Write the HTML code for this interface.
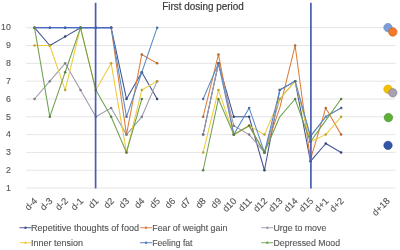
<!DOCTYPE html>
<html><head><meta charset="utf-8"><style>
html,body{margin:0;padding:0;background:#fff;width:400px;height:250px;overflow:hidden}
svg{display:block;will-change:transform;filter:blur(0.35px)}
.ax{font-family:"Liberation Sans",sans-serif;font-size:8.8px;fill:#555;stroke:#555;stroke-width:0.12px}
.xl{font-size:9.3px}
.ti{font-family:"Liberation Sans",sans-serif;font-size:10px;fill:#3a3a3a;stroke:#3a3a3a;stroke-width:0.2px}
.lg{font-family:"Liberation Sans",sans-serif;font-size:8.4px;fill:#555;stroke:#555;stroke-width:0.12px}
</style></head><body>
<svg width="400" height="250" viewBox="0 0 400 250">
<line x1="26" y1="188.08" x2="395.5" y2="188.08" stroke="#E2E2E2" stroke-width="0.9"/>
<line x1="26" y1="170.26" x2="395.5" y2="170.26" stroke="#E2E2E2" stroke-width="0.9"/>
<line x1="26" y1="152.44" x2="395.5" y2="152.44" stroke="#E2E2E2" stroke-width="0.9"/>
<line x1="26" y1="134.62" x2="395.5" y2="134.62" stroke="#E2E2E2" stroke-width="0.9"/>
<line x1="26" y1="116.80" x2="395.5" y2="116.80" stroke="#E2E2E2" stroke-width="0.9"/>
<line x1="26" y1="98.98" x2="395.5" y2="98.98" stroke="#E2E2E2" stroke-width="0.9"/>
<line x1="26" y1="81.16" x2="395.5" y2="81.16" stroke="#E2E2E2" stroke-width="0.9"/>
<line x1="26" y1="63.34" x2="395.5" y2="63.34" stroke="#E2E2E2" stroke-width="0.9"/>
<line x1="26" y1="45.52" x2="395.5" y2="45.52" stroke="#E2E2E2" stroke-width="0.9"/>
<line x1="26" y1="27.70" x2="395.5" y2="27.70" stroke="#E2E2E2" stroke-width="0.9"/>
<text x="10.9" y="190.78" text-anchor="end" class="ax">1</text>
<text x="10.9" y="172.96" text-anchor="end" class="ax">2</text>
<text x="10.9" y="155.14" text-anchor="end" class="ax">3</text>
<text x="10.9" y="137.32" text-anchor="end" class="ax">4</text>
<text x="10.9" y="119.50" text-anchor="end" class="ax">5</text>
<text x="10.9" y="101.68" text-anchor="end" class="ax">6</text>
<text x="10.9" y="83.86" text-anchor="end" class="ax">7</text>
<text x="10.9" y="66.04" text-anchor="end" class="ax">8</text>
<text x="10.9" y="48.22" text-anchor="end" class="ax">9</text>
<text x="10.9" y="30.40" text-anchor="end" class="ax">10</text>
<text transform="translate(37.90,201.6) rotate(-45)" text-anchor="end" class="ax xl">d-4</text>
<text transform="translate(53.23,201.6) rotate(-45)" text-anchor="end" class="ax xl">d-3</text>
<text transform="translate(68.56,201.6) rotate(-45)" text-anchor="end" class="ax xl">d-2</text>
<text transform="translate(83.89,201.6) rotate(-45)" text-anchor="end" class="ax xl">d-1</text>
<text transform="translate(99.22,201.6) rotate(-45)" text-anchor="end" class="ax xl">d1</text>
<text transform="translate(114.55,201.6) rotate(-45)" text-anchor="end" class="ax xl">d2</text>
<text transform="translate(129.88,201.6) rotate(-45)" text-anchor="end" class="ax xl">d3</text>
<text transform="translate(145.21,201.6) rotate(-45)" text-anchor="end" class="ax xl">d4</text>
<text transform="translate(160.54,201.6) rotate(-45)" text-anchor="end" class="ax xl">d5</text>
<text transform="translate(175.87,201.6) rotate(-45)" text-anchor="end" class="ax xl">d6</text>
<text transform="translate(191.20,201.6) rotate(-45)" text-anchor="end" class="ax xl">d7</text>
<text transform="translate(206.53,201.6) rotate(-45)" text-anchor="end" class="ax xl">d8</text>
<text transform="translate(221.86,201.6) rotate(-45)" text-anchor="end" class="ax xl">d9</text>
<text transform="translate(237.19,201.6) rotate(-45)" text-anchor="end" class="ax xl">d10</text>
<text transform="translate(252.52,201.6) rotate(-45)" text-anchor="end" class="ax xl">d11</text>
<text transform="translate(267.85,201.6) rotate(-45)" text-anchor="end" class="ax xl">d12</text>
<text transform="translate(283.18,201.6) rotate(-45)" text-anchor="end" class="ax xl">d13</text>
<text transform="translate(298.51,201.6) rotate(-45)" text-anchor="end" class="ax xl">d14</text>
<text transform="translate(313.84,201.6) rotate(-45)" text-anchor="end" class="ax xl">d15</text>
<text transform="translate(329.17,201.6) rotate(-45)" text-anchor="end" class="ax xl">d+1</text>
<text transform="translate(344.50,201.6) rotate(-45)" text-anchor="end" class="ax xl">d+2</text>
<text transform="translate(390.49,201.6) rotate(-45)" text-anchor="end" class="ax xl">d+18</text>
<polyline points="34.50,27.70 49.83,45.52 65.16,36.61 80.49,27.70 95.82,27.70 111.15,27.70 126.48,98.98 141.81,72.25 157.14,98.98" fill="none" stroke="#415291" stroke-width="1.05" stroke-linejoin="round"/>
<circle cx="34.50" cy="27.70" r="1.25" fill="#344174"/>
<circle cx="49.83" cy="45.52" r="1.25" fill="#344174"/>
<circle cx="65.16" cy="36.61" r="1.25" fill="#344174"/>
<circle cx="80.49" cy="27.70" r="1.25" fill="#344174"/>
<circle cx="95.82" cy="27.70" r="1.25" fill="#344174"/>
<circle cx="111.15" cy="27.70" r="1.25" fill="#344174"/>
<circle cx="126.48" cy="98.98" r="1.25" fill="#344174"/>
<circle cx="141.81" cy="72.25" r="1.25" fill="#344174"/>
<circle cx="157.14" cy="98.98" r="1.25" fill="#344174"/>
<polyline points="203.13,134.62 218.46,63.34 233.79,116.80 249.12,116.80 264.45,170.26 279.78,90.07 295.11,81.16 310.44,161.35 325.77,143.53 341.10,152.44" fill="none" stroke="#415291" stroke-width="1.05" stroke-linejoin="round"/>
<circle cx="203.13" cy="134.62" r="1.25" fill="#344174"/>
<circle cx="218.46" cy="63.34" r="1.25" fill="#344174"/>
<circle cx="233.79" cy="116.80" r="1.25" fill="#344174"/>
<circle cx="249.12" cy="116.80" r="1.25" fill="#344174"/>
<circle cx="264.45" cy="170.26" r="1.25" fill="#344174"/>
<circle cx="279.78" cy="90.07" r="1.25" fill="#344174"/>
<circle cx="295.11" cy="81.16" r="1.25" fill="#344174"/>
<circle cx="310.44" cy="161.35" r="1.25" fill="#344174"/>
<circle cx="325.77" cy="143.53" r="1.25" fill="#344174"/>
<circle cx="341.10" cy="152.44" r="1.25" fill="#344174"/>
<polyline points="111.15,27.70 126.48,134.62 141.81,54.43 157.14,63.34" fill="none" stroke="#DC7E3C" stroke-width="1.05" stroke-linejoin="round"/>
<circle cx="111.15" cy="27.70" r="1.25" fill="#b06430"/>
<circle cx="126.48" cy="134.62" r="1.25" fill="#b06430"/>
<circle cx="141.81" cy="54.43" r="1.25" fill="#b06430"/>
<circle cx="157.14" cy="63.34" r="1.25" fill="#b06430"/>
<polyline points="203.13,116.80 218.46,54.43 233.79,134.62 249.12,125.71 264.45,152.44 279.78,107.89 295.11,45.52 310.44,159.57 325.77,107.89 341.10,134.62" fill="none" stroke="#DC7E3C" stroke-width="1.05" stroke-linejoin="round"/>
<circle cx="203.13" cy="116.80" r="1.25" fill="#b06430"/>
<circle cx="218.46" cy="54.43" r="1.25" fill="#b06430"/>
<circle cx="233.79" cy="134.62" r="1.25" fill="#b06430"/>
<circle cx="249.12" cy="125.71" r="1.25" fill="#b06430"/>
<circle cx="264.45" cy="152.44" r="1.25" fill="#b06430"/>
<circle cx="295.11" cy="45.52" r="1.25" fill="#b06430"/>
<circle cx="325.77" cy="107.89" r="1.25" fill="#b06430"/>
<circle cx="341.10" cy="134.62" r="1.25" fill="#b06430"/>
<polyline points="34.50,98.98 49.83,81.16 65.16,63.34 80.49,90.07 95.82,116.80 111.15,107.89 126.48,134.62 141.81,116.80 157.14,81.16" fill="none" stroke="#9C9AAA" stroke-width="1.05" stroke-linejoin="round"/>
<circle cx="34.50" cy="98.98" r="1.25" fill="#7c7b88"/>
<circle cx="49.83" cy="81.16" r="1.25" fill="#7c7b88"/>
<circle cx="65.16" cy="63.34" r="1.25" fill="#7c7b88"/>
<circle cx="80.49" cy="90.07" r="1.25" fill="#7c7b88"/>
<circle cx="95.82" cy="116.80" r="1.25" fill="#7c7b88"/>
<circle cx="111.15" cy="107.89" r="1.25" fill="#7c7b88"/>
<circle cx="126.48" cy="134.62" r="1.25" fill="#7c7b88"/>
<circle cx="141.81" cy="116.80" r="1.25" fill="#7c7b88"/>
<circle cx="157.14" cy="81.16" r="1.25" fill="#7c7b88"/>
<polyline points="203.13,134.62 218.46,63.34 233.79,125.71 249.12,134.62 264.45,152.44 279.78,98.98 295.11,81.16 310.44,136.40 325.77,116.80 341.10,107.89" fill="none" stroke="#9C9AAA" stroke-width="1.05" stroke-linejoin="round"/>
<circle cx="203.13" cy="134.62" r="1.25" fill="#7c7b88"/>
<circle cx="218.46" cy="63.34" r="1.25" fill="#7c7b88"/>
<circle cx="233.79" cy="125.71" r="1.25" fill="#7c7b88"/>
<circle cx="249.12" cy="134.62" r="1.25" fill="#7c7b88"/>
<circle cx="264.45" cy="152.44" r="1.25" fill="#7c7b88"/>
<circle cx="279.78" cy="98.98" r="1.25" fill="#7c7b88"/>
<circle cx="295.11" cy="81.16" r="1.25" fill="#7c7b88"/>
<circle cx="310.44" cy="136.40" r="1.25" fill="#7c7b88"/>
<circle cx="325.77" cy="116.80" r="1.25" fill="#7c7b88"/>
<circle cx="341.10" cy="107.89" r="1.25" fill="#7c7b88"/>
<polyline points="34.50,45.52 49.83,45.52 65.16,90.07 80.49,27.70 95.82,90.07 111.15,63.34 126.48,152.44 141.81,90.07 157.14,81.16" fill="none" stroke="#EDCB3A" stroke-width="1.05" stroke-linejoin="round"/>
<circle cx="34.50" cy="45.52" r="1.25" fill="#bda22e"/>
<circle cx="49.83" cy="45.52" r="1.25" fill="#bda22e"/>
<circle cx="65.16" cy="90.07" r="1.25" fill="#bda22e"/>
<circle cx="80.49" cy="27.70" r="1.25" fill="#bda22e"/>
<circle cx="95.82" cy="90.07" r="1.25" fill="#bda22e"/>
<circle cx="111.15" cy="63.34" r="1.25" fill="#bda22e"/>
<circle cx="126.48" cy="152.44" r="1.25" fill="#bda22e"/>
<circle cx="141.81" cy="90.07" r="1.25" fill="#bda22e"/>
<circle cx="157.14" cy="81.16" r="1.25" fill="#bda22e"/>
<polyline points="203.13,152.44 218.46,90.07 233.79,134.62 249.12,125.71 264.45,134.62 279.78,98.98 295.11,81.16 310.44,141.75 325.77,134.62 341.10,116.80" fill="none" stroke="#EDCB3A" stroke-width="1.05" stroke-linejoin="round"/>
<circle cx="203.13" cy="152.44" r="1.25" fill="#bda22e"/>
<circle cx="218.46" cy="90.07" r="1.25" fill="#bda22e"/>
<circle cx="233.79" cy="134.62" r="1.25" fill="#bda22e"/>
<circle cx="249.12" cy="125.71" r="1.25" fill="#bda22e"/>
<circle cx="264.45" cy="134.62" r="1.25" fill="#bda22e"/>
<circle cx="279.78" cy="98.98" r="1.25" fill="#bda22e"/>
<circle cx="295.11" cy="81.16" r="1.25" fill="#bda22e"/>
<circle cx="310.44" cy="141.75" r="1.25" fill="#bda22e"/>
<circle cx="325.77" cy="134.62" r="1.25" fill="#bda22e"/>
<circle cx="341.10" cy="116.80" r="1.25" fill="#bda22e"/>
<polyline points="34.50,27.70 49.83,27.70 65.16,27.70 80.49,27.70 95.82,27.70 111.15,27.70 126.48,116.80 141.81,72.25 157.14,27.70" fill="none" stroke="#5A8AC8" stroke-width="1.05" stroke-linejoin="round"/>
<circle cx="34.50" cy="27.70" r="1.25" fill="#486ea0"/>
<circle cx="49.83" cy="27.70" r="1.25" fill="#486ea0"/>
<circle cx="65.16" cy="27.70" r="1.25" fill="#486ea0"/>
<circle cx="80.49" cy="27.70" r="1.25" fill="#486ea0"/>
<circle cx="95.82" cy="27.70" r="1.25" fill="#486ea0"/>
<circle cx="111.15" cy="27.70" r="1.25" fill="#486ea0"/>
<circle cx="126.48" cy="116.80" r="1.25" fill="#486ea0"/>
<circle cx="141.81" cy="72.25" r="1.25" fill="#486ea0"/>
<circle cx="157.14" cy="27.70" r="1.25" fill="#486ea0"/>
<polyline points="203.13,98.98 218.46,63.34 233.79,134.62 249.12,107.89 264.45,152.44 279.78,90.07 295.11,81.16 310.44,136.40 325.77,116.80 341.10,107.89" fill="none" stroke="#5A8AC8" stroke-width="1.05" stroke-linejoin="round"/>
<circle cx="203.13" cy="98.98" r="1.25" fill="#486ea0"/>
<circle cx="218.46" cy="63.34" r="1.25" fill="#486ea0"/>
<circle cx="233.79" cy="134.62" r="1.25" fill="#486ea0"/>
<circle cx="249.12" cy="107.89" r="1.25" fill="#486ea0"/>
<circle cx="264.45" cy="152.44" r="1.25" fill="#486ea0"/>
<circle cx="279.78" cy="90.07" r="1.25" fill="#486ea0"/>
<circle cx="295.11" cy="81.16" r="1.25" fill="#486ea0"/>
<circle cx="310.44" cy="136.40" r="1.25" fill="#486ea0"/>
<circle cx="341.10" cy="107.89" r="1.25" fill="#486ea0"/>
<line x1="34.50" y1="27.70" x2="111.15" y2="27.70" stroke="#4B69C2" stroke-width="1.3"/>
<circle cx="49.83" cy="27.70" r="1.25" fill="#4560B0"/>
<circle cx="65.16" cy="27.70" r="1.25" fill="#4560B0"/>
<circle cx="80.49" cy="27.70" r="1.25" fill="#4560B0"/>
<circle cx="95.82" cy="27.70" r="1.25" fill="#4560B0"/>
<circle cx="111.15" cy="27.70" r="1.25" fill="#4560B0"/>
<polyline points="34.50,27.70 49.83,116.80 65.16,72.25 80.49,27.70 95.82,90.07 111.15,116.80 126.48,152.44 141.81,98.98" fill="none" stroke="#6EA050" stroke-width="1.05" stroke-linejoin="round"/>
<circle cx="34.50" cy="27.70" r="1.25" fill="#588040"/>
<circle cx="49.83" cy="116.80" r="1.25" fill="#588040"/>
<circle cx="65.16" cy="72.25" r="1.25" fill="#588040"/>
<circle cx="80.49" cy="27.70" r="1.25" fill="#588040"/>
<circle cx="95.82" cy="90.07" r="1.25" fill="#588040"/>
<circle cx="111.15" cy="116.80" r="1.25" fill="#588040"/>
<circle cx="126.48" cy="152.44" r="1.25" fill="#588040"/>
<circle cx="141.81" cy="98.98" r="1.25" fill="#588040"/>
<polyline points="203.13,170.26 218.46,98.98 233.79,134.62 249.12,125.71 264.45,152.44 279.78,116.80 295.11,98.98 310.44,141.75 325.77,120.36 341.10,98.98" fill="none" stroke="#6EA050" stroke-width="1.05" stroke-linejoin="round"/>
<circle cx="203.13" cy="170.26" r="1.25" fill="#588040"/>
<circle cx="218.46" cy="98.98" r="1.25" fill="#588040"/>
<circle cx="233.79" cy="134.62" r="1.25" fill="#588040"/>
<circle cx="249.12" cy="125.71" r="1.25" fill="#588040"/>
<circle cx="264.45" cy="152.44" r="1.25" fill="#588040"/>
<circle cx="295.11" cy="98.98" r="1.25" fill="#588040"/>
<circle cx="310.44" cy="141.75" r="1.25" fill="#588040"/>
<circle cx="341.10" cy="98.98" r="1.25" fill="#588040"/>
<line x1="95.6" y1="2.8" x2="95.6" y2="188.4" stroke="#485CB4" stroke-width="1.7"/>
<line x1="310.9" y1="2.8" x2="310.9" y2="188.4" stroke="#485CB4" stroke-width="1.7"/>
<circle cx="388" cy="27.6" r="4.2" fill="#7C9ED8" stroke="#5B7FC0" stroke-width="0.6"/>
<circle cx="392.8" cy="32" r="4.2" fill="#F07A2A" stroke="#C55A11" stroke-width="0.6"/>
<circle cx="388" cy="89.2" r="4.2" fill="#F5C000" stroke="#D9A800" stroke-width="0.6"/>
<circle cx="392.8" cy="92.8" r="4.2" fill="#A8A0B0" stroke="#808080" stroke-width="0.6"/>
<circle cx="388.4" cy="117.6" r="4.2" fill="#5EB034" stroke="#3F7F2A" stroke-width="0.6"/>
<circle cx="388" cy="145.4" r="4.2" fill="#3355A5" stroke="#23407F" stroke-width="0.6"/>
<text x="203" y="10.2" text-anchor="middle" class="ti" textLength="81.5" lengthAdjust="spacingAndGlyphs">First dosing period</text>
<line x1="19.5" y1="227.7" x2="31.5" y2="227.7" stroke="#415291" stroke-width="1.1" opacity="0.85"/>
<circle cx="25.5" cy="227.7" r="1.2" fill="#415291"/>
<text x="31.0" y="230.6" class="lg" textLength="108.05" lengthAdjust="spacingAndGlyphs">Repetitive thoughts of food</text>
<line x1="140" y1="227.7" x2="152" y2="227.7" stroke="#DC7E3C" stroke-width="1.1" opacity="0.85"/>
<circle cx="146" cy="227.7" r="1.2" fill="#DC7E3C"/>
<text x="152.25" y="230.6" class="lg" textLength="75.05" lengthAdjust="spacingAndGlyphs">Fear of weight gain</text>
<line x1="261.25" y1="227.7" x2="273.25" y2="227.7" stroke="#9C9AAA" stroke-width="1.1" opacity="0.85"/>
<circle cx="267.25" cy="227.7" r="1.2" fill="#9C9AAA"/>
<text x="273.5" y="230.6" class="lg" textLength="52.8" lengthAdjust="spacingAndGlyphs">Urge to move</text>
<line x1="19.5" y1="242.7" x2="31.5" y2="242.7" stroke="#EDCB3A" stroke-width="1.1" opacity="0.85"/>
<circle cx="25.5" cy="242.7" r="1.2" fill="#EDCB3A"/>
<text x="31.0" y="245.6" class="lg" textLength="52.099999999999994" lengthAdjust="spacingAndGlyphs">Inner tension</text>
<line x1="140" y1="242.7" x2="152" y2="242.7" stroke="#4F78BE" stroke-width="1.1" opacity="0.85"/>
<circle cx="146" cy="242.7" r="1.2" fill="#4F78BE"/>
<text x="152.25" y="245.6" class="lg" textLength="40.25" lengthAdjust="spacingAndGlyphs">Feeling fat</text>
<line x1="261.25" y1="242.7" x2="273.25" y2="242.7" stroke="#6EA050" stroke-width="1.1" opacity="0.85"/>
<circle cx="267.25" cy="242.7" r="1.2" fill="#6EA050"/>
<text x="273.5" y="245.6" class="lg" textLength="66.55" lengthAdjust="spacingAndGlyphs">Depressed Mood</text>
</svg></body></html>
